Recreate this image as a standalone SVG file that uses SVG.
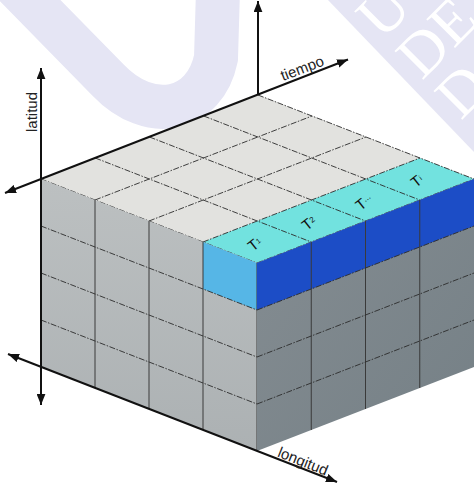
<svg xmlns="http://www.w3.org/2000/svg" width="474" height="486" viewBox="0 0 474 486">
<defs>
<style>
.wm{fill:#e5e5f4;stroke:none}
.wmt{fill:#ffffff;font-family:"Liberation Serif",serif;font-size:62px}
.grid{fill:none;stroke:#2b2b2b;stroke-width:0.9;stroke-dasharray:6 1.5 1.5 1.5}
.vl{fill:none;stroke:#3a3a3a;stroke-width:1}
.axis{fill:none;stroke:#111;stroke-width:2}
.lbl{font-family:"Liberation Sans",Arial,sans-serif;font-size:15px;fill:#222}
.tl{font-family:"Liberation Sans",Arial,sans-serif;font-size:15px;fill:#111;text-anchor:middle}
</style>
<marker id="arr" viewBox="0 0 10 8" markerUnits="userSpaceOnUse" markerWidth="11" markerHeight="9" refX="10" refY="4" orient="auto-start-reverse">
<path d="M0,0 L10,4 L0,8 z" fill="#111"/>
</marker>
<linearGradient id="gl" x1="0" y1="0" x2="0" y2="1">
<stop offset="0" stop-color="#bcc0c1"/>
<stop offset="1" stop-color="#acb1b3"/>
</linearGradient>
<linearGradient id="gr" x1="0" y1="0" x2="1" y2="1">
<stop offset="0" stop-color="#858d92"/>
<stop offset="1" stop-color="#758086"/>
</linearGradient>
</defs>
<rect width="474" height="486" fill="#ffffff"/>
<g id="watermark">
<path d="M 12,-18 L 108,80 C 150,124 205,112 216,58 L 218,-10" fill="none" stroke="#e5e5f4" stroke-width="44"/>
<polygon class="wm" points="328,0 474,0 474,152"/>
<text class="wmt" transform="translate(382,41) rotate(-45)">U</text>
<text class="wmt" transform="translate(422,81) rotate(-45)">DE</text>
<text class="wmt" transform="translate(461,121) rotate(-45)">D</text>
</g>
<g id="cube-top">
<polygon points="41,179 258,95 420,158 203,242" fill="#e2e2df"/>
<polygon points="203,242 420,158 474,179 257,263" fill="#72e2df"/>
<path class="grid" d="M95.25,158 L311.25,242 M149.5,137 L365.5,221 M203.75,116 L419.75,200 M258,95 L474,179 M95,200 L312,116 M149,221 L366,137 M203,242 L420,158 M257,263 L474,179 M41,179 L257,263"/>
</g>
<g id="cube-left">
<polygon points="41,179 257,263 257,451 41,367" fill="url(#gl)"/>
<polygon points="203,242 257,263 257,310 203,289" fill="#56b6e6"/>
<path class="vl" d="M95,200 L95,388 M149,221 L149,409 M203,242 L203,430 M257,263 L257,451"/>
<path class="grid" d="M41,226 L257,310 M41,273 L257,357 M41,320 L257,404"/>
</g>
<g id="cube-right">
<polygon points="257,263 474,179 474,367 257,451" fill="url(#gr)"/>
<polygon points="257,263 474,179 474,226 257,310" fill="#1c4dc6"/>
<path class="vl" d="M311.25,242 L311.25,430 M365.5,221 L365.5,409 M419.75,200 L419.75,388"/>
<path class="grid" d="M257,310 L474,226 M257,357 L474,273 M257,404 L474,320"/>
</g>
<g id="axes">
<line class="axis" x1="41" y1="405" x2="41" y2="68" marker-start="url(#arr)" marker-end="url(#arr)"/>
<line class="axis" x1="5" y1="193" x2="348" y2="59.5" marker-start="url(#arr)" marker-end="url(#arr)"/>
<line class="axis" x1="258" y1="95" x2="258" y2="1" marker-end="url(#arr)"/>
<line class="axis" x1="8" y1="354" x2="337" y2="482" marker-start="url(#arr)" marker-end="url(#arr)"/>
</g>
<g id="axis-labels">
<text class="lbl" text-anchor="middle" transform="translate(37,112) rotate(-90)">latitud</text>
<text class="lbl" text-anchor="middle" transform="translate(304,73) rotate(-21)">tiempo</text>
<text class="lbl" text-anchor="middle" transform="translate(301,466) rotate(22)">longitud</text>
</g>
<g id="cell-labels">
<text class="tl" transform="translate(258,248) rotate(-38)">T<tspan font-size="7" dy="-3">1</tspan></text>
<text class="tl" transform="translate(312,227) rotate(-38)">T<tspan font-size="8" dy="-3">2</tspan></text>
<text class="tl" transform="translate(367,206) rotate(-38)">T<tspan font-size="9" dy="-4">...</tspan></text>
<text class="tl" transform="translate(420,185) rotate(-38)">T<tspan font-size="7" dy="-3">i</tspan></text>
</g>
</svg>
